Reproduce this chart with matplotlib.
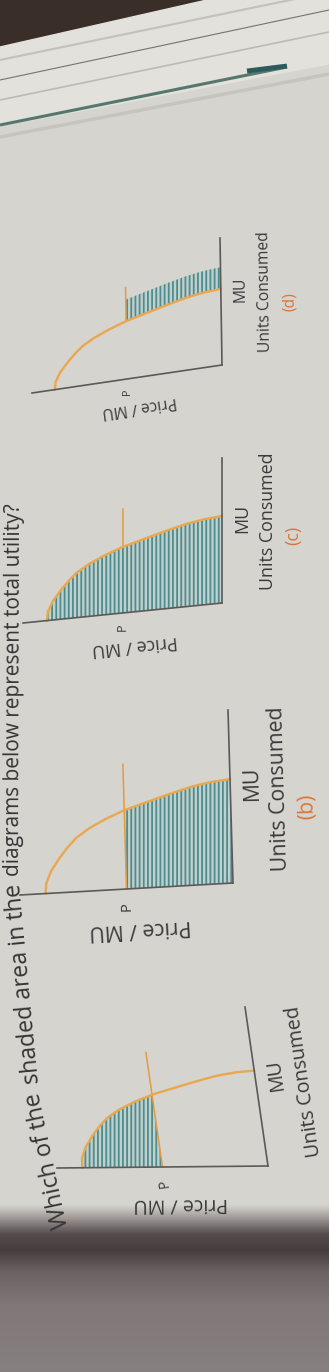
import numpy as np
import matplotlib.pyplot as plt
from matplotlib.transforms import Affine2D
from matplotlib.colors import LinearSegmentedColormap

plt.rcParams['font.family'] = ['Open Sans', 'DejaVu Sans']
plt.rcParams['hatch.linewidth'] = 1.3

# MU curve, same in all four diagrams (units / price as share of the axis length)
mu_units = [0.00, 0.06, 0.13, 0.20, 0.26, 0.31, 0.36, 0.41, 0.455, 0.50, 0.54, 0.57, 0.59, 0.60]
mu_price = [0.88, 0.875, 0.85, 0.81, 0.77, 0.73, 0.67, 0.59, 0.50, 0.38, 0.27, 0.18, 0.09, 0.00]
price_level = 0.50
price_line_end = 0.72
band_width = 0.17  # extra units shaded past the MU curve in (d)

panel_labels = ['(a)', '(b)', '(c)', '(d)']
shaded_part = ['above P', 'below P', 'all', 'past MU']
price_line_from = [0.0, 0.0, 0.455, 0.455]

question = 'Which of the shaded area in the diagrams below represent total utility?'
y_label = 'Price / MU'
x_label = 'Units Consumed'
curve_label = 'MU'
price_tick = 'P'

# where each diagram sits in the (rotated) photo: origin, units axis, price axis (px)
frames = [((268, 1166), (-23, -159), (-211, 2)),
          ((233, 883), (-5, -173), (-213, 12)),
          ((222, 603), (0, -145), (-199, 20)),
          ((222, 365), (-2, -127), (-190, 28))]

W, H = 329, 1372
fig = plt.figure(figsize=(W / 100, H / 100), dpi=100)
fig.patch.set_facecolor('#d6d4cf')
ax = fig.add_axes([0, 0, 1, 1])
renderer = fig.canvas.get_renderer()


def fit_size(text, length, size=10.0):
    t = fig.text(0, 0, text, fontsize=size)
    w = t.get_window_extent(renderer).width
    t.remove()
    return size * length / w


def angle(v):
    return np.degrees(np.arctan2(-v[1], v[0]))


# photo background: table corner and page edges at the top, book gutter at the bottom
ax.fill([0, 207, 0], [0, 0, 47], color='#3a2e29', zorder=1)
ax.fill([0, 207, 329, 329, 0], [47, 0, 0, 64, 126], color='#e3e1dc', zorder=1)
edges = [(0, 80, 329, 10, '#77726c', 0.8), (0, 60, 329, -8, '#c4c0ba', 1.5),
         (0, 100, 329, 32, '#bdb9b3', 1.2), (0, 125, 287, 67, '#56786c', 2.2),
         (247, 71, 287, 66, '#2d5a5c', 3.5), (0, 137, 329, 74, '#c7c4be', 2.5)]
for x0, y0, x1, y1, c, lw in edges:
    ax.plot([x0, x1], [y0, y1], color=c, lw=lw, solid_capstyle='butt', zorder=1)

shadow = LinearSegmentedColormap.from_list(
    'shadow', [(0.0, '#d3d1cc'), (0.06, '#aaa4a1'), (0.17, '#554c4e'), (0.27, '#463d3f'),
               (0.40, '#6b6263'), (0.6, '#7f7778'), (1.0, '#878080')])
ax.imshow(np.linspace(0, 1, 200)[:, None], cmap=shadow, extent=(0, W, H, 1205),
          aspect='auto', zorder=1)

u = np.array(mu_units)
p = np.array(mu_price)
upper = p >= price_level
lower = p <= price_level

for k, (org, uv, pv) in enumerate(frames):
    tr = Affine2D(np.array([[uv[0], pv[0], org[0]],
                            [uv[1], pv[1], org[1]],
                            [0, 0, 1]])) + ax.transData
    kind = shaded_part[k]
    if kind == 'above P':
        su, sp = np.r_[0, u[upper]], np.r_[price_level, p[upper]]
    elif kind == 'below P':
        su, sp = np.r_[0, 0, u[lower]], np.r_[0, price_level, p[lower]]
    elif kind == 'all':
        su, sp = np.r_[0, u], np.r_[0, p]
    else:
        su = np.r_[u[lower], u[lower][::-1] + band_width]
        sp = np.r_[p[lower], p[lower][::-1]]
    ax.fill(su, sp, transform=tr, facecolor='#c0d0cc', edgecolor='#4f8c8f',
            hatch='||||', lw=0, zorder=2)
    ax.plot([price_line_from[k], price_line_end], [price_level, price_level],
            transform=tr, color='#e39b3e', lw=1.1, zorder=3)
    ax.plot(u, p, transform=tr, color='#e9a84f', lw=1.7, zorder=4)
    ax.plot([0, 1], [0, 0], transform=tr, color='#5b5a58', lw=1.2, zorder=4)
    ax.plot([0, 0], [0, 1], transform=tr, color='#5b5a58', lw=1.2, zorder=4)

    fs = fit_size(x_label, 0.95 * np.hypot(*uv))
    ang_u, ang_p = angle(uv), angle(pv)

    def put(s, uu, pp, rot, size, color='#3b3a3a'):
        ax.text(uu, pp, s, transform=tr, rotation=rot, rotation_mode='anchor',
                ha='center', va='center', fontsize=size, color=color, zorder=5)

    put(x_label, 0.53, -0.23, ang_u, fs)
    put(curve_label, 0.57, -0.10, ang_u, fs)
    put(price_tick, -0.10, price_level, ang_u, fs * 0.7)
    put(y_label, -0.23, 0.44, ang_p, fs)
    if k > 0:
        put(panel_labels[k], 0.42, -0.36, ang_u, fs, '#d9773b')

# question text follows the curl of the page
words = question.split()
title_pieces = [' '.join(words[:3]), ' '.join(words[3:7]), ' '.join(words[7:])]
title_path = [((62, 1228), (33, 1092)), ((33, 1084), (14, 884)), ((14, 876), (15, 502))]
for text, (a, b) in zip(title_pieces, title_path):
    v = (b[0] - a[0], b[1] - a[1])
    ax.text(a[0], a[1], text, rotation=angle(v), rotation_mode='anchor', ha='left',
            va='center', fontsize=fit_size(text, np.hypot(*v)),
            color='#363434', zorder=5)

ax.set_xlim(0, W)
ax.set_ylim(H, 0)
ax.axis('off')
fig.savefig('out.png', dpi=100, facecolor=fig.get_facecolor())
